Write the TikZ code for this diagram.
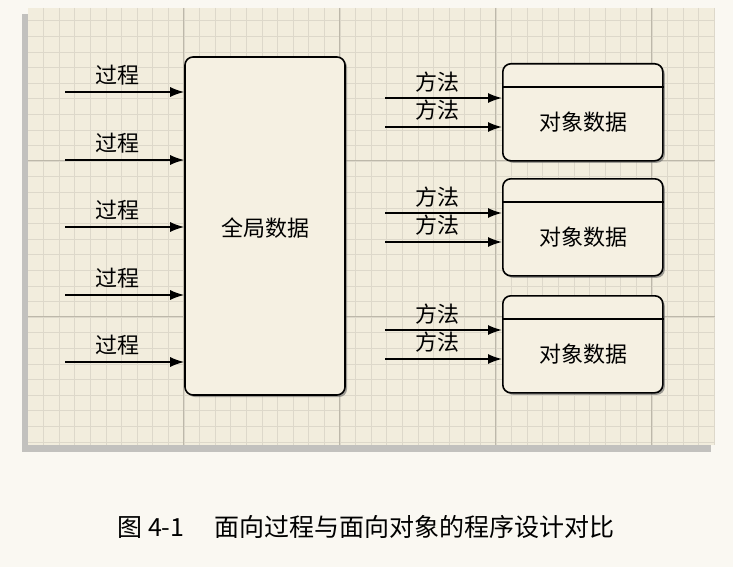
\documentclass[tikz,border=0pt]{standalone}
\usepackage{fontspec}
\newfontfamily\cjk{Noto Sans CJK SC}
\usetikzlibrary{arrows.meta,shadows}
\definecolor{paper}{HTML}{FAF8F2}
\definecolor{panel}{HTML}{F2EDDD}
\definecolor{boxfill}{HTML}{F5F0E2}
\definecolor{fine}{HTML}{DDD8CA}
\definecolor{major}{HTML}{BDB8AA}
\tikzset{
  lbl/.style={font=\cjk\fontsize{22}{22}\selectfont, inner sep=0pt},
  bigbox/.style={draw=black, line width=1.6pt, rounded corners=8pt, fill=boxfill,
     drop shadow={shadow xshift=2pt, shadow yshift=-2pt, fill=black!60, opacity=.6}},
  arr/.style={line width=1.6pt, -{Latex[length=14pt,width=10pt]}},
}
\begin{document}
\begin{tikzpicture}[x=1pt,y=-1pt]
\useasboundingbox[fill=paper] (0,0) rectangle (733,567);
% panel shadow
\fill[black!45, opacity=.5] (22,14) rectangle (711,452);
\fill[panel] (28,8) rectangle (715,445);
\foreach \x in {43.4,59,...,715} \draw[fine, line width=.4pt] (\x,8) -- (\x,445);
\foreach \y in {20.6,36.2,...,445} \draw[fine, line width=.4pt] (28,\y) -- (715,\y);
\foreach \x in {183,339,495,651} \draw[major, line width=.8pt] (\x,8) -- (\x,445);
\foreach \y in {160,316} \draw[major, line width=.8pt] (28,\y) -- (715,\y);
% global data
\node[bigbox, minimum width=160pt, minimum height=338pt] (g) at (265,226) {};
\node[lbl] (gt) at (265,228) {全局数据};
\foreach \i/\y in {1/92,2/160,3/227,4/295,5/362}{
  \coordinate (p\i) at (65,\y);
  \draw[arr] (p\i) -- (p\i -| g.west);
  \node[lbl] (pl\i) at (117,\y-17) {过程};
}
% objects
\foreach \i/\t in {1/63,2/178,3/295}{
  \node[bigbox, minimum width=160pt, minimum height=97pt, anchor=north west] (o\i) at (502,\t) {};
  \coordinate (ol\i) at (502,\t+24);
  \draw[line width=1.2pt] (ol\i) -- (ol\i -| o\i.east);
  \node[lbl] (ot\i) at (583,\t+59) {对象数据};
  \coordinate (ma\i) at (385,\t+35);
  \coordinate (mb\i) at (385,\t+64);
  \draw[arr] (ma\i) -- (ma\i -| o\i.west);
  \draw[arr] (mb\i) -- (mb\i -| o\i.west);
  \node[lbl] (mla\i) at (437,\t+19) {方法};
  \node[lbl] (mlb\i) at (437,\t+47) {方法};
}
\node[lbl, font=\cjk\fontsize{25}{25}\selectfont] (cap) at (366,527) {图 4-1\hspace{30pt}面向过程与面向对象的程序设计对比};
\end{tikzpicture}
\end{document}
